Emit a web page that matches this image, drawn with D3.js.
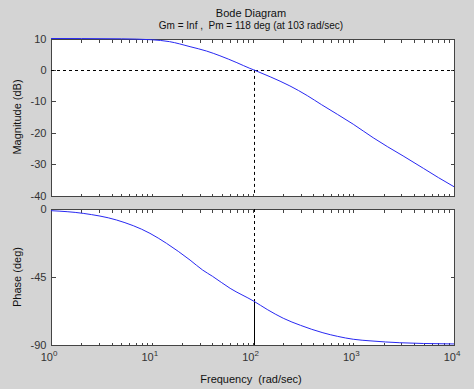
<!DOCTYPE html>
<html>
<head>
<meta charset="utf-8">
<script src="https://cdn.jsdelivr.net/npm/d3@7"></script>
<style>
  body { margin: 0; background: #d4d4d4; }
  svg { display: block; font-family: "Liberation Sans", Arial, sans-serif; }
  text { white-space: pre; }
  .axis { color: #444; }
  .axis line { shape-rendering: crispEdges; }
  .axis text { fill: #333; font-size: 11px; }
</style>
</head>
<body>
<div id="chart"></div>
<script>
// values
var magFreq = [1, 2, 5, 10, 15, 24, 35, 47.5, 70, 94, 103, 150, 235, 350, 486, 700, 1000, 1577, 2200, 3126, 5000, 7000, 10000];
var magDb   = [10, 9.98, 9.9, 9.6, 9.0, 7.4, 6.0, 4.5, 2.3, 0.5, 0, -2.2, -5.1, -8.2, -11.1, -14.2, -17.3, -21.6, -24.5, -27.4, -31.4, -34.3, -37.2];
var phFreq  = [1, 2.09, 4.48, 9.6, 14, 24, 32, 40, 60, 103, 140, 202, 300, 500, 700, 1000, 1500, 2900, 5000, 10000];
var phDeg   = [-1.1, -2.9, -7.3, -16.1, -22.7, -33.8, -40.4, -44.5, -52.5, -61, -66.5, -72.3, -77, -81.9, -84.3, -86.2, -87.3, -88.5, -89, -89.3];
var magTicks = [10, 0, -10, -20, -30, -40];
var phTicks = [0, -45, -90];
var decades = [0, 1, 2, 3, 4];
var wc = 103;          // crossover frequency
var pmPhase = -61;     // phase at crossover
var title1 = "Bode Diagram";
var title2 = "Gm = Inf ,  Pm = 118 deg (at 103 rad/sec)";

var svgWidth = 474, svgHeight = 389;
var left = 51, right = 454;

var svg = d3.select("#chart").append("svg")
  .attr("width", svgWidth)
  .attr("height", svgHeight);

svg.append("rect").attr("width", svgWidth).attr("height", svgHeight).attr("fill", "#d4d4d4");

var x = d3.scaleLog().domain([1, 10000]).range([left, right]);
var yMag = d3.scaleLinear().domain([-40, 10]).range([195.5, 38.5]);
var yPh = d3.scaleLinear().domain([-90, 0]).range([345, 209]);

// minor + major log ticks
var xTickVals = [];
decades.forEach(function(d) {
  for (var m = 1; m <= 9; m++) {
    var v = m * Math.pow(10, d);
    if (v <= 10000) xTickVals.push(v);
  }
});

function panel(y, ticks) {
  var g = svg.append("g");
  var y0 = y.range()[0], y1 = y.range()[1];
  g.append("rect")
    .attr("x", left + 0.5).attr("y", Math.round(y1) + 0.5)
    .attr("width", right - left).attr("height", Math.round(y0) - Math.round(y1))
    .attr("fill", "#fff").attr("stroke", "#444");

  g.append("g").attr("class", "axis")
    .attr("transform", "translate(" + (left + 0.5) + ",0)")
    .call(d3.axisLeft(y).tickValues(ticks).tickSizeInner(-4).tickSizeOuter(0).tickPadding(5).tickFormat(String));
  g.append("g").attr("class", "axis")
    .attr("transform", "translate(" + (right + 0.5) + ",0)")
    .call(d3.axisRight(y).tickValues(ticks).tickSizeInner(-4).tickSizeOuter(0).tickFormat(""));
  g.append("g").attr("class", "axis")
    .attr("transform", "translate(0," + (Math.round(y0) + 0.5) + ")")
    .call(d3.axisBottom(x).tickValues(xTickVals).tickSizeInner(-3).tickSizeOuter(0).tickFormat(""));
  g.append("g").attr("class", "axis")
    .attr("transform", "translate(0," + (Math.round(y1) + 0.5) + ")")
    .call(d3.axisTop(x).tickValues(xTickVals).tickSizeInner(-3).tickSizeOuter(0).tickFormat(""));
  g.selectAll(".axis path").remove();
  return g;
}

var magG = panel(yMag, magTicks);
var phG = panel(yPh, phTicks);

var xc = Math.round(x(wc)) + 0.5;

// margin markers
magG.append("line")
  .attr("x1", left).attr("x2", right)
  .attr("y1", Math.round(yMag(0)) + 0.5).attr("y2", Math.round(yMag(0)) + 0.5)
  .attr("stroke", "#000").attr("stroke-dasharray", "3,3");
magG.append("line")
  .attr("x1", xc).attr("x2", xc)
  .attr("y1", yMag(0)).attr("y2", yMag(-40))
  .attr("stroke", "#000").attr("stroke-dasharray", "3,3");
phG.append("line")
  .attr("x1", xc).attr("x2", xc)
  .attr("y1", yPh(0)).attr("y2", yPh(pmPhase))
  .attr("stroke", "#000").attr("stroke-dasharray", "3,3");
phG.append("line")
  .attr("x1", xc).attr("x2", xc)
  .attr("y1", yPh(pmPhase)).attr("y2", yPh(-90))
  .attr("stroke", "#000");

// curves
var magLine = d3.line().x(function(d) { return x(d[0]); }).y(function(d) { return yMag(d[1]); }).curve(d3.curveMonotoneX);
var phLine = d3.line().x(function(d) { return x(d[0]); }).y(function(d) { return yPh(d[1]); }).curve(d3.curveMonotoneX);

magG.append("path")
  .datum(d3.zip(magFreq, magDb))
  .attr("d", magLine)
  .attr("fill", "none").attr("stroke", "#2828f2").attr("stroke-width", 1);
phG.append("path")
  .datum(d3.zip(phFreq, phDeg))
  .attr("d", phLine)
  .attr("fill", "none").attr("stroke", "#2828f2").attr("stroke-width", 1);

// x tick labels with superscripts
var xl = svg.append("g").attr("font-size", "11px").attr("fill", "#333");
decades.forEach(function(d) {
  var t = xl.append("text")
    .attr("x", x(Math.pow(10, d)) - 2)
    .attr("y", 361)
    .attr("text-anchor", "middle");
  t.append("tspan").text("10");
  t.append("tspan").attr("dy", -5).attr("font-size", "8px").text(d);
});

// titles and axis labels
svg.append("text").attr("x", 251).attr("y", 17).attr("text-anchor", "middle")
  .attr("font-size", "11px").attr("fill", "#111").text(title1);
svg.append("text").attr("x", 251).attr("y", 29).attr("text-anchor", "middle")
  .attr("font-size", "10px").attr("fill", "#111").text(title2);
svg.append("text").attr("x", 251).attr("y", 383).attr("text-anchor", "middle")
  .attr("font-size", "11px").attr("fill", "#111").text("Frequency  (rad/sec)");
svg.append("text")
  .attr("transform", "translate(21," + yMag(-15) + ") rotate(-90)")
  .attr("text-anchor", "middle").attr("font-size", "11px").attr("fill", "#111")
  .text("Magnitude (dB)");
svg.append("text")
  .attr("transform", "translate(21," + yPh(-45) + ") rotate(-90)")
  .attr("text-anchor", "middle").attr("font-size", "11px").attr("fill", "#111")
  .text("Phase (deg)");
</script>
</body>
</html>
